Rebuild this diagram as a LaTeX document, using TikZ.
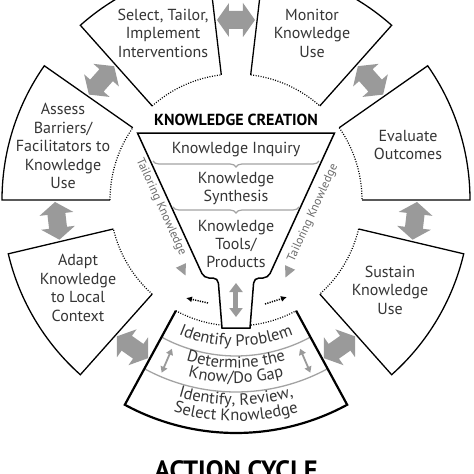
\documentclass[tikz,border=0pt]{standalone}
\usepackage{fontspec}
\setmainfont{PT Sans}
\usetikzlibrary{decorations.text,decorations.pathreplacing,arrows.meta}
\definecolor{txt}{HTML}{353535}
\definecolor{arrgray}{HTML}{9A9A9A}
\definecolor{divgray}{HTML}{A3A3A3}
\definecolor{tailgray}{HTML}{6A6A6A}
\newcommand{\ringseg}[2]{%
  \draw[segline] (#1:126) -- (#1:234) arc[start angle=#1, end angle=#2, radius=234pt] -- (#2:126);
  \draw[dotline] (#2:126) arc[start angle=#2, end angle=#1, radius=126pt];}
\newcommand{\curvtext}[3]{%
  \path[decorate, decoration={text along path, text align=center, text color=txt,
    text={|\fontsize{#3}{16}\selectfont|#2}}] (236:#1) arc[start angle=236, end angle=304, radius=#1pt];}
\tikzset{
  bigarrow/.pic={\fill[arrgray] (-19,0) -- (-7,17) -- (-7,9) -- (7,9) -- (7,17) -- (19,0)
     -- (7,-17) -- (7,-9) -- (-7,-9) -- (-7,-17) -- cycle;},
  tri/.pic={\fill[arrgray] (6,0) -- (-5,5.5) -- (-5,-5.5) -- cycle;}
}
\begin{document}
\begin{tikzpicture}[x=1pt,y=1pt,
  segline/.style={line width=1.3pt, black},
  botline/.style={line width=2.2pt, black},
  dotline/.style={line width=1.2pt, black, dash pattern=on 1pt off 1.5pt},
  divline/.style={line width=1.3pt, divgray},
  seglabel/.style={align=center, font=\fontsize{16}{18.5}\selectfont, text=txt, inner sep=0pt},
  funtext/.style={align=center, font=\fontsize{16}{18}\selectfont, text=txt, inner sep=0pt},
  tail/.style={font=\fontsize{12}{13}\selectfont, text=tailgray, inner sep=0pt},
  bracedeco/.style={divgray, line width=1.2pt, decorate, decoration={brace, mirror, amplitude=6pt}},
  dotarrow/.style={black, line width=1.5pt, dash pattern=on 1.2pt off 1.2pt, -{Latex[length=6pt,width=6pt]}},
  neckarrow/.style={arrgray, line width=5pt, {Triangle[width=13pt,length=9pt]}-{Triangle[width=13pt,length=9pt]}},
  thinarrow/.style={arrgray, line width=1.8pt, {Triangle[width=7pt,length=6pt]}-{Triangle[width=7pt,length=6pt]}}
]
\useasboundingbox (-236,-274) rectangle (238,200);
\fill[white] (-236,-274) rectangle (238,200);
\clip (-236,-274) rectangle (238,200);

% ring segments
\ringseg{0}{35}
\ringseg{48.3}{83.3}
\ringseg{96.7}{131.7}
\ringseg{145}{180}
\ringseg{193.3}{228.3}
\ringseg{311.7}{346.7}

% bottom (action) segment
\draw[divline] (241.5:156) arc[start angle=241.5, end angle=298.5, radius=156pt];
\draw[divline] (241.5:192) arc[start angle=241.5, end angle=298.5, radius=192pt];
\draw[botline] (241.5:126) -- (241.5:233) arc[start angle=241.5, end angle=298.5, radius=233pt] -- (298.5:126);
\draw[dotline] (241.5:126) arc[start angle=241.5, end angle=298.5, radius=126pt];

% gray double arrows between segments
\pic[rotate=131.65] at (41.65:180) {bigarrow};
\pic[rotate=180] at (90:180) {bigarrow};
\pic[rotate=228.35] at (138.35:180) {bigarrow};
\pic[rotate=276.65] at (186.65:180) {bigarrow};
\pic[rotate=324.9] at (234.9:180) {bigarrow};
\pic[rotate=35.1] at (305.1:180) {bigarrow};
\pic[rotate=83.35] at (353.35:180) {bigarrow};

% ring labels
\node[seglabel] (eval) at (172,55) {Evaluate\\Outcomes};
\node[seglabel] (mon) at (76,167) {Monitor\\Knowledge\\Use};
\node[seglabel] (sel) at (-73,167) {Select, Tailor,\\Implement\\Interventions};
\node[seglabel] (ass) at (-173,54) {Assess\\Barriers/\\Facilitators to\\Knowledge\\Use};
\node[seglabel] (adapt) at (-158,-88) {Adapt\\Knowledge\\to Local\\Context};
\node[seglabel] (sus) at (154,-90) {Sustain\\Knowledge\\Use};

% curved texts in action segment
\curvtext{146}{Identify Problem}{16.5}
\curvtext{168}{Determine the}{16.5}
\curvtext{183}{Know/Do Gap}{16.5}
\curvtext{205}{Identify, Review,}{16.5}
\curvtext{221}{Select Knowledge}{16.5}

% small gray arrows in action segment
\coordinate (la1) at (246.7:162); \coordinate (la2) at (246.7:188);
\coordinate (ra1) at (293.3:162); \coordinate (ra2) at (293.3:188);
\draw[thinarrow] (la1) -- (la2);
\draw[thinarrow] (ra1) -- (ra2);

% funnel
\draw[line width=1.5pt, black, fill=white] (-98.5,67) [rounded corners=5pt] -- (-32,-78) -- (-18,-78) [sharp corners] -- (-14,-128)
   -- (14,-128) [rounded corners=5pt] -- (18,-78) -- (32,-78) [sharp corners] -- (98.5,67) -- cycle;
\draw[bracedeco] (-83,39) -- (83,39);
\draw[bracedeco] (-63,-7) -- (63,-7);

\node[font=\bfseries\fontsize{16}{18}\selectfont, inner sep=0pt] (kc) at (0,80) {KNOWLEDGE CREATION};
\node[funtext] (inq) at (0,50) {Knowledge Inquiry};
\node[funtext] (syn) at (0,11) {Knowledge\\Synthesis};
\node[funtext] (tools) at (0,-44) {Knowledge\\Tools/\\Products};

\node[tail, rotate=-65.5] (tl) at (-75,-7) {Tailoring Knowledge};
\node[tail, rotate=65.5] (tr) at (77,-13) {Tailoring Knowledge};
\pic[rotate=-65.5] at (-53,-70) {tri};
\pic[rotate=-114.5] at (52,-72) {tri};

% neck arrows
\coordinate (n1) at (0,-83); \coordinate (n2) at (0,-117);
\draw[neckarrow] (n1) -- (n2);
\coordinate (dl1) at (-28,-103); \coordinate (dl2) at (-50,-98);
\coordinate (dr1) at (29,-104); \coordinate (dr2) at (51,-97);
\draw[dotarrow] (dl1) -- (dl2);
\draw[dotarrow] (dr1) -- (dr2);

\node[font=\bfseries\fontsize{26.5}{30}\selectfont, anchor=base, inner sep=0pt] (ac) at (0,-279) {ACTION CYCLE};
\end{tikzpicture}
\end{document}
